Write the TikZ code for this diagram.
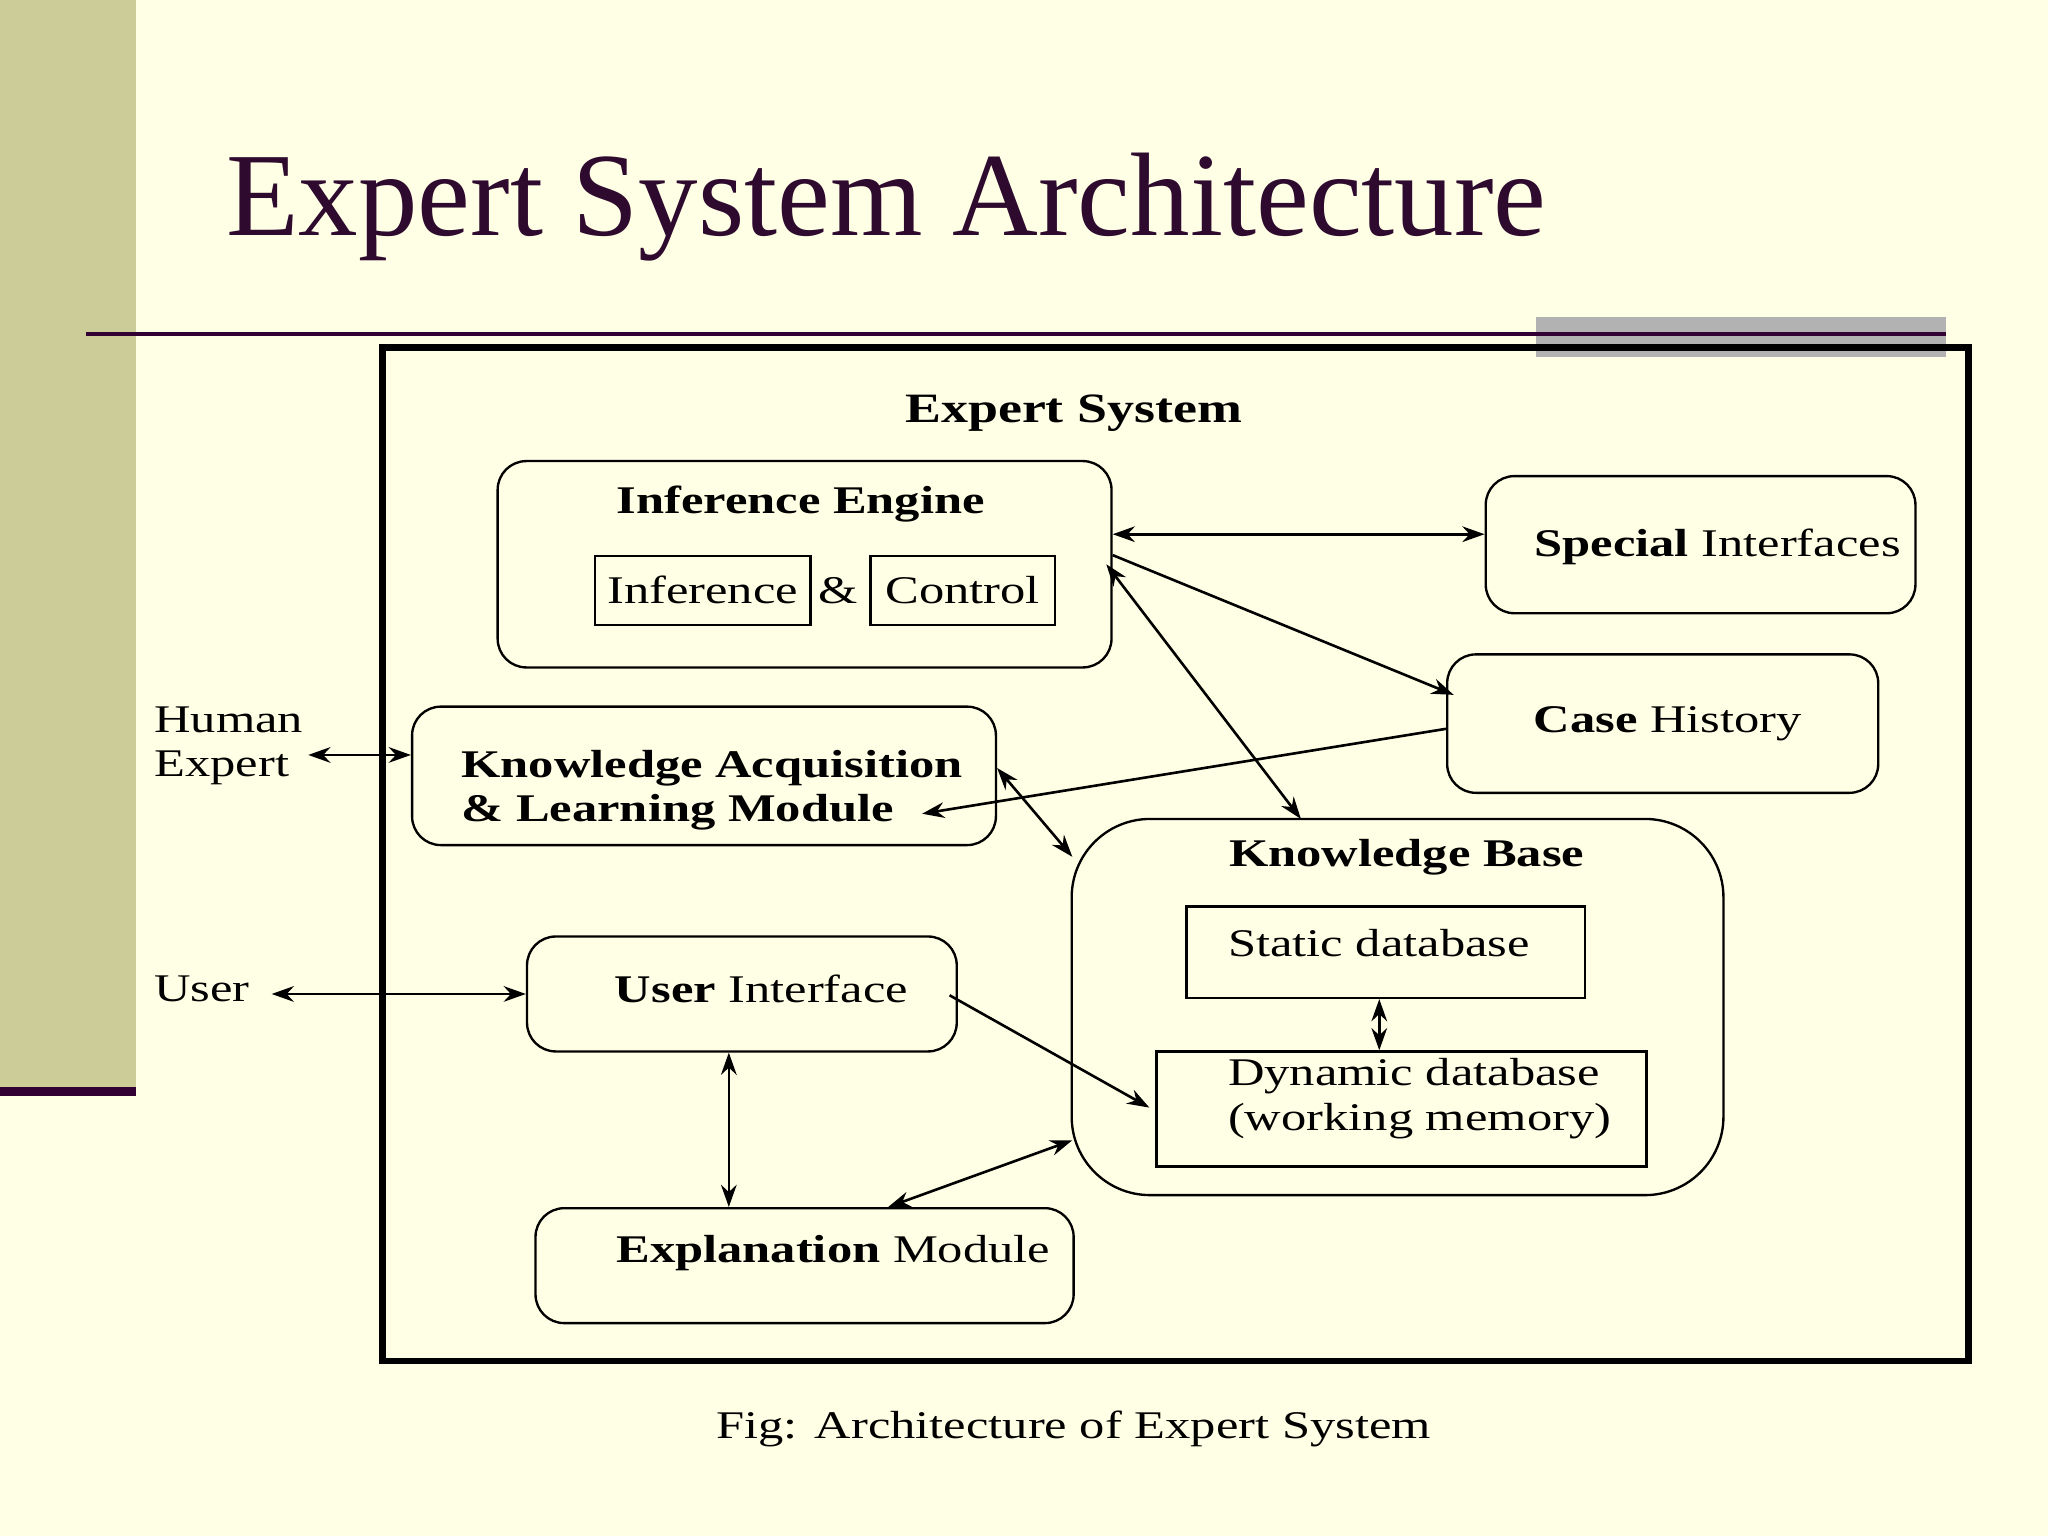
\documentclass[tikz,border=0pt]{standalone}
\usepackage{fontspec}
\setmainfont{Liberation Serif}
\newfontfamily\wide[FakeStretch=1.29]{Liberation Serif}
\usetikzlibrary{arrows.meta}
\definecolor{bg}{HTML}{FFFFE6}
\definecolor{olive}{HTML}{CCCC99}
\definecolor{plum}{HTML}{330033}
\definecolor{titlec}{HTML}{2E0A2E}
\tikzset{
 rbox/.style={draw, line width=1.8pt, rounded corners=22pt, inner sep=0pt},
 sbox/.style={draw, line width=1.8pt, inner sep=0pt},
 txt/.style={font=\wide\fontsize{30}{35}\selectfont, inner sep=0pt},
 btxt/.style={font=\wide\fontsize{30}{35}\selectfont\bfseries, inner sep=0pt},
 arr/.style={line width=2pt, -{Stealth[length=17pt,width=12pt]}},
 darr/.style={line width=2pt, {Stealth[length=17pt,width=12pt]}-{Stealth[length=17pt,width=12pt]}},
}
\begin{document}
\begin{tikzpicture}[x=1pt,y=-1pt]
\useasboundingbox (0,0) rectangle (1568,1176);
\fill[bg] (0,0) rectangle (1568,1176);
\fill[olive] (0,0) rectangle (104,835);
\fill[plum] (0,832) rectangle (104,839);
\fill[gray!60] (1176,243) rectangle (1490,273);
\draw[plum, line width=3pt] (66,256) -- (1490,256);
\node[anchor=base west, text=titlec, font=\fontsize{91}{100}\selectfont, inner sep=0pt] (title) at (173,180) {Expert System Architecture};
\node[draw, line width=5pt, minimum width=1214pt, minimum height=776pt, inner sep=0pt] (es) at (900,654) {};
\node[btxt, font=\wide\fontsize{32}{38}\selectfont\bfseries] (est) at (822,316) {Expert System};
% inference engine
\node[rbox, minimum width=470pt, minimum height=158pt] (ie) at (616,432) {};
\node[btxt] (iet) at (613,386) {Inference Engine};
\node[sbox, minimum width=165pt, minimum height=53pt] (inf) at (538,452) {};
\node[txt] at (inf) {Inference};
\node[txt] (amp) at (642,452) {\&};
\node[sbox, minimum width=141pt, minimum height=53pt] (ctl) at (737,452) {};
\node[txt] at (ctl) {Control};
% special interfaces
\node[rbox, minimum width=329pt, minimum height=105pt] (si) at (1302,417) {};
\node[txt] at (1315,419) {\textbf{Special} Interfaces};
% case history
\node[rbox, minimum width=330pt, minimum height=106pt] (ch) at (1273,554) {};
\node[txt] at (1277,554) {\textbf{Case} History};
% knowledge acquisition
\node[rbox, minimum width=447pt, minimum height=106pt] (ka) at (539,594) {};
\node[btxt, anchor=west, align=left, font=\wide\fontsize{30}{34}\selectfont\bfseries] at (353,605) {Knowledge Acquisition\\\& Learning Module};
% knowledge base
\node[rbox, rounded corners=60pt, minimum width=499pt, minimum height=288pt] (kb) at (1070,771) {};
\node[btxt] at (1077,656) {Knowledge Base};
\node[sbox, minimum width=305pt, minimum height=70pt] (sd) at (1061,729) {};
\node[txt, anchor=west] at (940,722) {Static database};
\node[sbox, minimum width=375pt, minimum height=88pt] (dd) at (1073,849) {};
\node[txt, anchor=west, align=left, font=\wide\fontsize{30}{34}\selectfont] at (940,841) {Dynamic database\\(working memory)};
% user interface
\node[rbox, minimum width=329pt, minimum height=88pt] (ui) at (568,761) {};
\node[txt] at (583,757) {\textbf{User} Interface};
% explanation
\node[rbox, minimum width=412pt, minimum height=88pt] (em) at (616,969) {};
\node[txt] at (638,959) {\textbf{Explanation} Module};
% outside
\node[txt, anchor=west, align=left, font=\wide\fontsize{30}{34}\selectfont] (he) at (118,571) {Human\\Expert};
\node[txt, anchor=west] (us) at (118,757) {User};
\node[txt] (cap) at (822,1094) {Fig: Architecture of Expert System};
% connectors
\draw[darr] (ie.east |- 0,409) -- (si.west |- 0,409);
\draw[arr] (ie.east |- 0,425) -- (1113,532);
\draw[darr] (847,432) -- (996,627);
\draw[arr] (ch.west |- 0,558) -- (706,623);
\draw[darr] (ka.east |- 0,588) -- (821,656);
\draw[darr] (236,578) -- (ka.west |- 0,578);
\draw[darr] (208,761) -- (ui.west);
\draw[arr] (727,762) -- (880,848);
\draw[darr] (ui.south -| 558,0) -- (em.north -| 558,0);
\draw[darr] (em.north -| 680,0) -- (821,873);
\draw[darr] (sd.south -| 1056,0) -- (dd.north -| 1056,0);
\end{tikzpicture}
\end{document}
